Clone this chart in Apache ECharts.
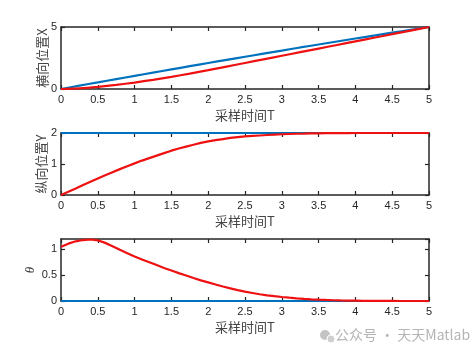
<!DOCTYPE html>
<html><head><meta charset="utf-8">
<script src="https://cdn.jsdelivr.net/npm/echarts@6/dist/echarts.min.js"></script>
<style>html,body{margin:0;padding:0;background:#fff}#c{width:474px;height:355px}</style>
</head><body><div id="c"></div>
<script>
// sampling time (s), coarse grid for the X subplot
const timeX = [0,0.25,0.5,0.75,1,1.25,1.5,1.75,2,2.25,2.5,2.75,3,3.25,3.5,3.75,4,4.25,4.5,4.75,5];
// lateral position X
const xRef = [0,0.27,0.53,0.8,1.06,1.32,1.58,1.84,2.1,2.35,2.6,2.85,3.1,3.35,3.59,3.83,4.07,4.31,4.54,4.77,5];
const xAct = [0,0.05,0.17,0.33,0.52,0.74,0.98,1.24,1.52,1.81,2.1,2.39,2.68,2.97,3.26,3.55,3.84,4.13,4.42,4.71,5];
// sampling time (s), fine grid for the Y and theta subplots
const timeF = [0,0.1,0.2,0.3,0.4,0.5,0.6,0.7,0.8,0.9,1,1.1,1.2,1.3,1.4,1.5,1.6,1.7,1.8,1.9,2,2.1,2.2,2.3,2.4,2.5,2.6,2.7,2.8,2.9,3,3.1,3.2,3.3,3.4,3.5,3.6,3.7,3.8,3.9,4,4.1,4.2,4.3,4.4,4.5,4.6,4.7,4.8,4.9,5];
// longitudinal position Y
const yRef = [2,2,2,2,2,2,2,2,2,2,2,2,2,2,2,2,2,2,2,2,2,2,2,2,2,2,2,2,2,2,2,2,2,2,2,2,2,2,2,2,2,2,2,2,2,2,2,2,2,2,2];
const yAct = [0,0.105,0.21,0.32,0.425,0.53,0.635,0.735,0.835,0.93,1.02,1.11,1.19,1.27,1.35,1.43,1.5,1.56,1.62,1.68,1.73,1.77,1.805,1.84,1.865,1.89,1.905,1.92,1.935,1.948,1.96,1.968,1.975,1.98,1.986,1.99,1.993,1.995,1.997,1.998,2,2,2,2,2,2,2,2,2,2,2];
// heading angle theta
const thRef = [0,0,0,0,0,0,0,0,0,0,0,0,0,0,0,0,0,0,0,0,0,0,0,0,0,0,0,0,0,0,0,0,0,0,0,0,0,0,0,0,0,0,0,0,0,0,0,0,0,0,0];
const thAct = [1.05,1.11,1.155,1.18,1.19,1.175,1.125,1.06,0.99,0.925,0.86,0.805,0.75,0.695,0.64,0.59,0.54,0.495,0.445,0.4,0.36,0.32,0.28,0.245,0.21,0.18,0.155,0.13,0.11,0.093,0.078,0.064,0.052,0.042,0.033,0.026,0.02,0.015,0.011,0.008,0.006,0.004,0.003,0.002,0.001,0.001,0,0,0,0,0];

const xName = '采样时间T';
const yNames = ['横向位置X','纵向位置Y','θ'];
const yMax = [5, 2, 1.2];
const yInterval = [5, 1, 0.5];

const pair = (xs, ys) => xs.map((v,i)=>[v, ys[i]]);
const BLUE = '#0072BD', RED = '#ee1111', AX = '#262626';
const tickFont = {fontFamily:'Liberation Sans, Arial, sans-serif', fontSize:11, color:AX};

const grids = [
  {left:61, right:45, top:27, height:62},
  {left:61, right:45, top:133, height:62},
  {left:61, right:45, top:239, height:62}
];
const xAxes = [], yAxes = [], series = [];
const nameGaps = [12, 13, 24];
grids.forEach((g, i) => {
  xAxes.push({gridIndex:i, type:'value', min:0, max:5, interval:0.5, position:'bottom',
    axisLine:{show:true, onZero:false, lineStyle:{color:AX, width:1.5}},
    axisTick:{show:true, inside:true, length:4, lineStyle:{color:AX, width:1.2}},
    axisLabel:{...tickFont, margin:5, formatter:v=>String(v)},
    splitLine:{show:false},
    name:xName, nameLocation:'middle', nameGap:20, nameMoveOverlap:false,
    nameTextStyle:{fontFamily:'Noto Sans CJK SC, sans-serif', fontSize:13, color:'#444'}});
  xAxes.push({gridIndex:i, type:'value', min:0, max:5, interval:0.5, position:'top',
    axisLine:{show:true, onZero:false, lineStyle:{color:AX, width:1.5}},
    axisTick:{show:true, inside:true, length:4, lineStyle:{color:AX, width:1.2}},
    axisLabel:{show:false}, splitLine:{show:false}});
  const isTheta = i === 2;
  yAxes.push({gridIndex:i, type:'value', min:0, max:yMax[i], interval:yInterval[i], position:'left',
    axisLine:{show:true, onZero:false, lineStyle:{color:AX, width:1.5}},
    axisTick:{show:true, inside:true, length:4, lineStyle:{color:AX, width:1.2}},
    axisLabel:{...tickFont, margin:4, showMaxLabel: !isTheta, formatter:v=>String(v)},
    splitLine:{show:false},
    name:yNames[i], nameLocation:'middle', nameGap:nameGaps[i], nameMoveOverlap:false,
    nameTextStyle: isTheta
      ? {fontFamily:'Liberation Serif, DejaVu Serif, serif', fontStyle:'italic', fontSize:13, color:'#333'}
      : {fontFamily:'Noto Sans CJK SC, sans-serif', fontSize:13, color:'#444'}});
  yAxes.push({gridIndex:i, type:'value', min:0, max:yMax[i], interval:yInterval[i], position:'right',
    axisLine:{show:true, onZero:false, lineStyle:{color:AX, width:1.5}},
    axisTick:{show:true, inside:true, length:4, lineStyle:{color:AX, width:1.2}},
    axisLabel:{show:false}, splitLine:{show:false}});
});
const times = [timeX, timeF, timeF];
const refs = [xRef, yRef, thRef], acts = [xAct, yAct, thAct];
for (let i = 0; i < 3; i++) {
  series.push({type:'line', xAxisIndex:2*i, yAxisIndex:2*i, data:pair(times[i], refs[i]),
    showSymbol:false, smooth:i === 0 ? 0.2 : false, clip:false, z:3, lineStyle:{color:BLUE, width:2.2}});
  series.push({type:'line', xAxisIndex:2*i, yAxisIndex:2*i, data:pair(times[i], acts[i]),
    showSymbol:false, smooth:i === 0 ? 0.2 : false, clip:false, z:4, lineStyle:{color:RED, width:2.2}});
}
const chart = echarts.init(document.getElementById('c'), null, {renderer:'canvas'});
chart.setOption({
  animation:false, backgroundColor:'#fff',
  grid:grids, xAxis:xAxes, yAxis:yAxes, series:series,
  graphic:[
    {type:'circle', shape:{cx:325, cy:335, r:5}, style:{fill:'#c4c4c4'}},
    {type:'circle', shape:{cx:331, cy:339, r:4}, style:{fill:'#d0d0d0', stroke:'#fff', lineWidth:1}},
    {type:'text', left:335, top:328, style:{text:'公众号 · 天天Matlab',
      font:'14px "Noto Sans CJK SC", sans-serif', fill:'#b4b4b4'}}
  ]
});
</script></body></html>
